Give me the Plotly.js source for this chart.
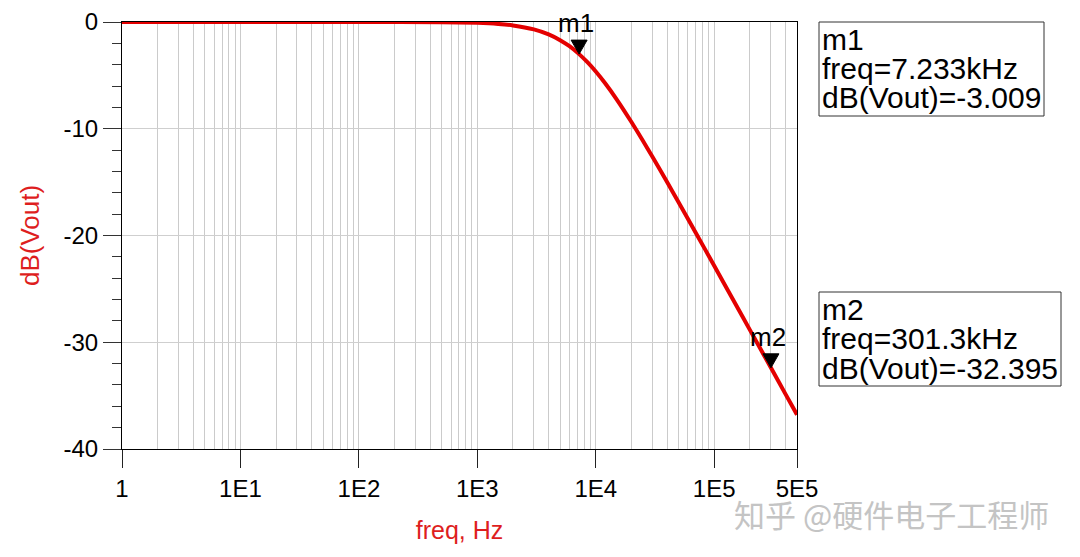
<!DOCTYPE html>
<html>
<head>
<meta charset="utf-8">
<script src="https://cdn.plot.ly/plotly-3.0.1.min.js"></script>
<style>html,body{margin:0;padding:0;background:#fff;}#chart{width:1080px;height:557px;}</style>
</head>
<body>
<div id="chart"></div>
<script>
// Data
var freqHz = [1, 10, 100, 500, 1000, 1500, 2000, 3000, 4000, 5000, 6000, 7233, 8500, 10000, 12000, 15000, 20000, 25000, 30000, 40000, 50000, 70000, 100000, 150000, 200000, 301300, 400000, 500000];
var dBVout = [0, 0, 0, -0.02, -0.08, -0.18, -0.32, -0.69, -1.16, -1.70, -2.27, -3.009, -3.77, -4.64, -5.74, -7.24, -9.37, -11.12, -12.60, -14.99, -16.88, -19.76, -22.83, -26.35, -28.84, -32.395, -34.86, -36.79];
var markerNames = ['m1', 'm2'];
var markerFreq = [7233, 301300];
var markerDB = [-3.009, -32.395];
var markerFreqText = ['7.233kHz', '301.3kHz'];
var xTickVals = [1, 10, 100, 1000, 10000, 100000, 500000];
var xTickText = ['1', '1E1', '1E2', '1E3', '1E4', '1E5', '5E5'];
var yTickVals = [-40, -30, -20, -10, 0];
var yTickText = ['-40', '-30', '-20', '-10', '0'];

// grid positions for the log axis (1..9 per decade)
var gridVals = [];
for (var d = 0; d <= 5; d++) {
  for (var k = 1; k <= 9; k++) {
    var v = k * Math.pow(10, d);
    if (v <= 500000) gridVals.push(v);
  }
}

var W = 1080, H = 557;
var L = 122, R = 797, T = 22, B = 449;
function px(xp) { return (xp - L) / (R - L); }
function py(yp) { return (B - yp) / (B - T); }

var red = 'rgb(228,0,0)';
var txtRed = 'rgb(222,30,30)';
var font = 'Arial, "Liberation Sans", sans-serif';

var traces = [
  {x: freqHz, y: dBVout, type: 'scatter', mode: 'lines', line: {color: red, width: 4, shape: 'spline', smoothing: 0.5}, cliponaxis: false, hoverinfo: 'x+y', showlegend: false},
  {x: freqHz, y: dBVout, xaxis: 'x2', type: 'scatter', mode: 'lines', line: {color: 'rgba(0,0,0,0)', width: 0}, hoverinfo: 'skip', showlegend: false}
];

var annotations = [];
var shapes = [];
// marker triangles (tip on the curve) and labels
for (var i = 0; i < markerNames.length; i++) {
  shapes.push({type: 'path', xref: 'x', yref: 'y', xsizemode: 'pixel', ysizemode: 'pixel',
    xanchor: markerFreq[i], yanchor: markerDB[i], path: 'M-8,14L8,14L0,0Z',
    fillcolor: '#000', line: {color: '#000', width: 1}, layer: 'above'});
  annotations.push({x: Math.log10(markerFreq[i]), y: markerDB[i], xref: 'x', yref: 'y', text: markerNames[i], showarrow: false,
    font: {family: font, size: 26, color: '#000'}, xanchor: 'center', yanchor: 'bottom', yshift: 14, xshift: -3});
}
// readout boxes
var boxes = [{top: 22, bottom: 116, right: 1044}, {top: 292, bottom: 386, right: 1061}];
for (var j = 0; j < boxes.length; j++) {
  var b = boxes[j];
  shapes.push({type: 'rect', xref: 'paper', yref: 'paper', x0: px(819), x1: px(b.right), y0: py(b.bottom), y1: py(b.top), line: {color: '#333', width: 1}, fillcolor: 'rgba(0,0,0,0)'});
  var lines = [markerNames[j], 'freq=' + markerFreqText[j], 'dB(Vout)=' + markerDB[j].toFixed(3)];
  for (var l = 0; l < 3; l++) {
    annotations.push({xref: 'paper', yref: 'paper', x: px(820), y: py(b.top + 17 + l * 29.5), text: lines[l], showarrow: false,
      xanchor: 'left', yanchor: 'middle', font: {family: font, size: 30, color: '#000'}});
  }
}
// watermark
annotations.push({xref: 'paper', yref: 'paper', x: px(891), y: py(513), text: '知乎 @硬件电子工程师', showarrow: false,
  xanchor: 'center', yanchor: 'middle', font: {family: '"Noto Sans CJK SC", sans-serif', size: 31, color: '#c4c4c4'}});

var layout = {
  width: W, height: H,
  margin: {l: L, r: W - R, t: T, b: H - B, pad: 0},
  paper_bgcolor: '#fff', plot_bgcolor: '#fff',
  font: {family: font, color: '#000'},
  showlegend: false,
  xaxis: {type: 'log', range: [0, Math.log10(500000)], tickmode: 'array', tickvals: gridVals, showticklabels: false, ticks: '',
    showgrid: true, gridcolor: '#cbcbcb', gridwidth: 1, zeroline: false, showline: true, linecolor: '#000', linewidth: 1, mirror: true, fixedrange: true},
  xaxis2: {type: 'log', overlaying: 'x', anchor: 'y', side: 'bottom', range: [0, Math.log10(500000)], tickmode: 'array', tickvals: xTickVals, ticktext: xTickText,
    ticks: 'outside', ticklen: 18, tickwidth: 1, tickcolor: '#222', showgrid: false, zeroline: false, showline: false,
    tickfont: {family: font, size: 24, color: '#000'},
    title: {text: 'freq, Hz', font: {family: font, size: 25, color: txtRed}, standoff: 20}},
  yaxis: {range: [-40, 0], tickmode: 'array', tickvals: yTickVals, ticktext: yTickText, ticks: 'outside', ticklen: 18, tickwidth: 1, tickcolor: '#333',
    showgrid: true, gridcolor: '#cfcfcf', gridwidth: 1, zeroline: false, showline: true, linecolor: '#000', linewidth: 1, mirror: true,
    minor: {dtick: 2, ticks: 'outside', ticklen: 9, tickwidth: 1, tickcolor: '#333', showgrid: false},
    tickfont: {family: font, size: 24, color: '#000'},
    title: {text: 'dB(Vout)', font: {family: font, size: 26, color: txtRed}, standoff: 16}},
  annotations: annotations,
  shapes: shapes
};

Plotly.newPlot('chart', traces, layout, {displayModeBar: false, staticPlot: true});
</script>
</body>
</html>
